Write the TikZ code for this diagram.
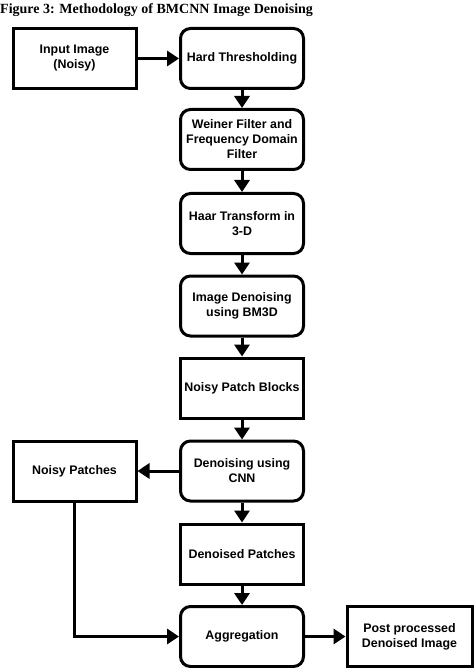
\documentclass[tikz,border=0pt]{standalone}
\usepackage{fontspec}
\setmainfont{Liberation Sans}
\newfontfamily\titlefont{Liberation Serif}
\usetikzlibrary{arrows.meta,positioning}
\tikzset{
  base/.style={draw=black, line width=3pt, minimum width=123pt, minimum height=60pt,
    align=center, font=\fontsize{12.4}{15}\selectfont\bfseries, inner sep=2pt},
  sqbox/.style={base},
  rbox/.style={base, rounded corners=10pt},
  arr/.style={line width=3pt, -{Triangle[width=15pt,length=12pt]}},
}
\begin{document}
\begin{tikzpicture}[x=1pt,y=-1pt]
\useasboundingbox (0,0) rectangle (474,668);
\node[anchor=base west, inner sep=0, font=\titlefont\fontsize{14}{16}\selectfont\bfseries] (title) at (0,13.5) {Figure 3: Methodology of BMCNN Image Denoising};
\node[sqbox] (in) at (74.5,58.5) {Input Image\\(Noisy)};
\node[rbox] (ht) at (242,58.5) {Hard Thresholding};
\node[rbox] (wf) at (242,139.5) {Weiner Filter and\\Frequency Domain\\Filter};
\node[rbox] (haar) at (242,223.5) {Haar Transform in\\3-D};
\node[rbox] (bm) at (242,306) {Image Denoising\\using BM3D};
\node[sqbox] (npb) at (242,388) {Noisy Patch Blocks};
\node[rbox] (cnn) at (242,471) {Denoising using\\CNN};
\node[sqbox] (np) at (74.5,471) {Noisy Patches};
\node[sqbox] (dp) at (242,554) {Denoised Patches};
\node[rbox] (agg) at (242,636.5) {Aggregation};
\node[sqbox, minimum width=125pt] (post) at (409.5,636.5) {Post processed\\Denoised Image};
\draw[arr] (in) -- (ht);
\draw[arr] (ht) -- (wf);
\draw[arr] (wf) -- (haar);
\draw[arr] (haar) -- (bm);
\draw[arr] (bm) -- (npb);
\draw[arr] (npb) -- (cnn);
\draw[arr] (cnn) -- (np);
\draw[arr] (cnn) -- (dp);
\draw[arr] (dp) -- (agg);
\draw[arr] (np.south) |- (agg.west);
\draw[arr] (agg) -- (post);
\end{tikzpicture}
\end{document}
